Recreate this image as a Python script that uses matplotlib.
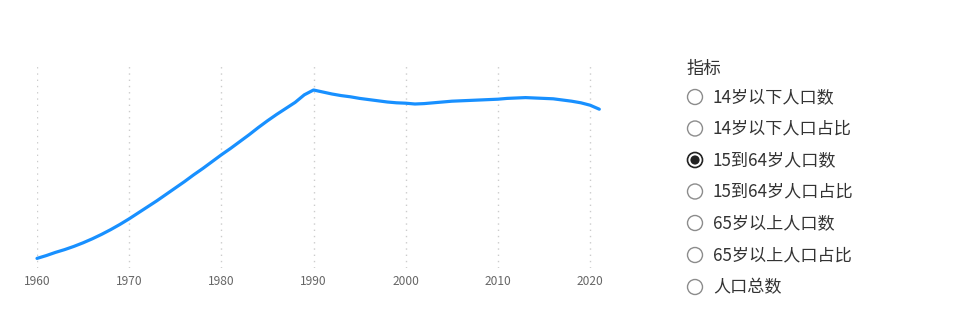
import matplotlib
matplotlib.use("Agg")
import matplotlib.pyplot as plt
from matplotlib.patches import Circle

plt.rcParams['font.family'] = ['Noto Sans CJK SC', 'DejaVu Sans']

years = list(range(1960, 2022))
# 15到64岁人口数 (relative units)
values = [10.4, 11.1, 11.9, 12.6, 13.4, 14.3, 15.3, 16.4, 17.6, 18.9,
          20.3, 21.8, 23.3, 24.8, 26.4, 28.0, 29.6, 31.3, 32.9, 34.6,
          36.3, 37.9, 39.6, 41.3, 43.1, 44.8, 46.4, 47.9, 49.4, 51.3,
          52.5, 52.0, 51.5, 51.1, 50.8, 50.4, 50.1, 49.8, 49.5, 49.3,
          49.2, 49.0, 49.1, 49.3, 49.5, 49.7, 49.8, 49.9, 50.0, 50.1,
          50.2, 50.4, 50.5, 50.6, 50.5, 50.4, 50.3, 50.0, 49.7, 49.3,
          48.7, 47.7]
xticks = [1960, 1970, 1980, 1990, 2000, 2010, 2020]
legend_title = "指标"
legend_items = ["14岁以下人口数", "14岁以下人口占比", "15到64岁人口数", "15到64岁人口占比",
                "65岁以上人口数", "65岁以上人口占比", "人口总数"]
selected = 2

W, H = 966, 315
fig = plt.figure(figsize=(W / 100, H / 100), dpi=100)

left_px, right_px, top_px, bottom_px = 37, 599.3, 62, 268
ax = fig.add_axes([left_px / W, 1 - bottom_px / H, (right_px - left_px) / W, (bottom_px - top_px) / H])
ax.plot(years, values, color='#1890ff', lw=2.3, solid_capstyle='round', solid_joinstyle='round', clip_on=False)
ax.set_xlim(1960, 2021)
ax.set_ylim(8.0, 59.5)
ax.set_xticks(xticks)
ax.set_xticklabels([str(t) for t in xticks], fontsize=8.6, color='#666666')
ax.set_yticks([])
ax.tick_params(axis='x', length=0, pad=5)
for s in ax.spines.values():
    s.set_visible(False)
for t in xticks:
    ax.axvline(t, color='#cccccc', lw=1.0, ls=(0, (1, 3.5)), zorder=0)

# legend overlay in pixel coordinates
ov = fig.add_axes([0, 0, 1, 1])
ov.set_xlim(0, W)
ov.set_ylim(H, 0)
ov.axis('off')
ov.text(686, 68.5, legend_title, fontsize=12.5, color='#333333', va='center', ha='left')
ys = [97, 128.5, 160, 191.5, 223, 255, 287]
for i, (lab, yy) in enumerate(zip(legend_items, ys)):
    if i == selected:
        ov.add_patch(Circle((695, yy), 7.5, facecolor='white', edgecolor='#222222', lw=1.2))
        ov.add_patch(Circle((695, yy), 4.6, facecolor='#222222', edgecolor='none'))
    else:
        ov.add_patch(Circle((695, yy), 7.5, facecolor='white', edgecolor='#8c8c8c', lw=1.0))
    ov.text(713, yy, lab, fontsize=12.3, color='#333333', va='center', ha='left')

fig.savefig('out.png', dpi=100)
